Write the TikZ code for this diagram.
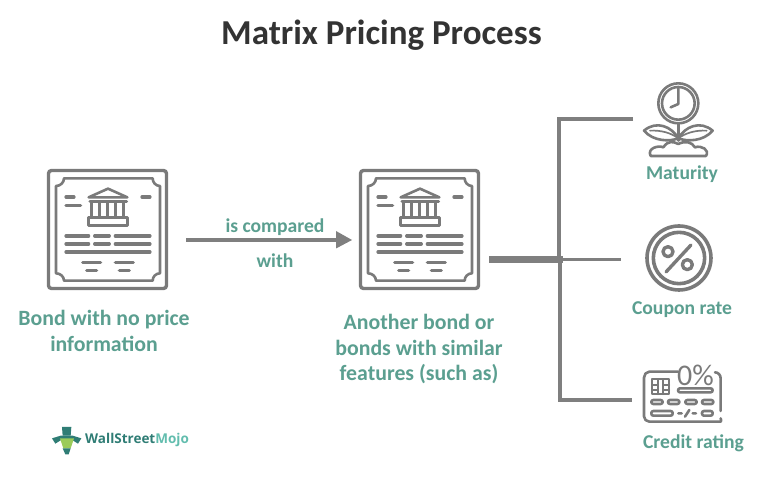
\documentclass[tikz,border=0pt]{standalone}
\usepackage{fontspec}
\setmainfont{Carlito}
\newfontfamily\logofont{Open Sans}
\definecolor{teal1}{HTML}{5B9F90}
\definecolor{gray1}{HTML}{7F7F7F}
\definecolor{gray2}{HTML}{7A7A7A}
\definecolor{title}{HTML}{333333}
\definecolor{logod}{HTML}{2F7D75}
\definecolor{logol}{HTML}{62BDAE}
\definecolor{logog}{HTML}{9BCB5A}
\tikzset{
 lab/.style={text=teal1,font=\bfseries\fontsize{21.8}{21.8}\selectfont,inner sep=0pt,anchor=center},
 smalllab/.style={text=teal1,font=\bfseries\fontsize{19.6}{19.6}\selectfont,inner sep=0pt,anchor=center},
 conn/.style={draw=gray1,line width=4pt},
 ic/.style={draw=gray2,line width=2.6pt,line cap=round,line join=round},
 icthin/.style={draw=gray2,line width=1.7pt,line cap=round,line join=round},
 bondbox/.style={draw=gray2,line width=3.4pt,rounded corners=3pt,minimum width=118pt,minimum height=118pt,inner sep=0pt,anchor=center},
 bond/.pic={
  \begin{scope}[x=0.3333pt,y=-0.3333pt]
  \draw[ic] (102,55)--(368,55) to[out=270,in=180] (390,78)--(390,340) to[out=180,in=90] (368,362)--(102,362) to[out=90,in=0] (78,340)--(78,78) to[out=0,in=270] cycle;
  \draw[ic,line width=3.2pt] (108,111)--(132,111) (108,136)--(152,136) (336,111)--(360,111);
  \draw[ic] (176,112)--(234,86)--(292,112)--cycle;
  \draw[ic,line width=3pt] (180,126)--(290,126);
  \foreach \x in {186,210,234,258,282} \draw[ic,line width=3pt] (\x,130)--(\x,170);
  \draw[ic,line width=3pt] (176,174) rectangle (292,198);
  \foreach \y in {228,252} {\draw[ic,line width=3.2pt] (108,\y)--(176,\y) (194,\y)--(238,\y) (256,\y)--(360,\y);}
  \draw[ic,line width=3.2pt] (108,276)--(360,276);
  \draw[ic,line width=3.2pt] (158,307)--(212,307) (256,307)--(310,307) (170,331)--(200,331) (268,331)--(298,331);
  \end{scope}
 }
}
\begin{document}
\begin{tikzpicture}[x=1pt,y=-1pt]
\useasboundingbox (0,0) rectangle (777,486);
\fill[white] (0,0) rectangle (777,486);
\node[inner sep=0pt,text=title,font=\bfseries\fontsize{35}{35}\selectfont] (ttl) at (381.5,35) {Matrix Pricing Process};

% bonds
\node[bondbox] (bondA) at (107.5,229.5) {};
\node[bondbox] (bondB) at (419.5,229.5) {};
\pic at (30,160) {bond};
\pic at (342,160) {bond};
\node[lab] (tA1) at (104,319.5) {Bond with no price};
\node[lab] (tA2) at (104,344) {information};
\node[lab] (tB1) at (419,322) {Another bond or};
\node[lab] (tB2) at (419,347.5) {bonds with similar};
\node[lab] (tB3) at (419,374) {features (such as)};

% compare arrow
\coordinate (arrS) at (186,240);
\coordinate (arrE) at (352,240);
\draw[draw=gray1,line width=4.4pt] (arrS) -- (337,240);
\fill[gray1] (336,231) -- (arrE) -- (336,248.5) -- cycle;
\node[smalllab] (cmp1) at (275,227.5) {is compared};
\node[smalllab] (cmp2) at (275,261) {with};

% bracket
\coordinate (trS) at (489,259.5);
\coordinate (jn) at (560,259.5);
\coordinate (tu) at (559,119);
\coordinate (tuE) at (633,119);
\coordinate (tm) at (621,259.5);
\coordinate (tl) at (560,400);
\coordinate (tlE) at (632,400);
\draw[conn,line width=7.5pt] (trS) -- (563,259.5);
\draw[conn,line width=3pt] (jn) -- (tm);
\draw[conn,line join=miter] (tuE) -- (tu) -- (559,259.5);
\draw[conn,line join=miter] (jn) -- (tl) -- (tlE);

% maturity
\begin{scope}[shift={(630,70)},x=0.3333pt,y=-0.3333pt]
\draw[ic] (145,100) circle (60);
\draw[ic] (145,100) circle (49);
\draw[ic] (145,52)--(145,102)--(122,112);
\draw[ic] (145,160)--(145,212);
\draw[ic] (145,205) .. controls (125,170) and (80,150) .. (42,182) .. controls (70,215) and (120,215) .. (145,205);
\draw[ic] (145,205) .. controls (165,170) and (210,150) .. (248,182) .. controls (220,215) and (170,215) .. (145,205);
\draw[icthin] (60,182) .. controls (95,180) and (125,190) .. (145,205) (230,182) .. controls (195,180) and (165,190) .. (145,205);
\draw[ic] (62,258) -- (228,258) (62,258) .. controls (50,235) and (85,225) .. (100,232) .. controls (115,210) and (130,215) .. (145,222) .. controls (165,212) and (185,215) .. (195,232) .. controls (215,225) and (240,240) .. (228,258);
\end{scope}
\node[smalllab] (tM) at (682,174) {Maturity};

% coupon
\begin{scope}[shift={(630,220)},x=0.3333pt,y=-0.3333pt]
\draw[ic,line width=3.6pt] (147,114) circle (96);
\draw[ic,line width=3.6pt] (147,114) circle (77);
\draw[ic,line width=3.4pt] (114,95) circle (15);
\draw[ic,line width=3.4pt] (172,134) circle (15);
\draw[ic,line width=3.4pt] (183,75)--(108,156);
\end{scope}
\node[smalllab] (tC) at (682,310) {Coupon rate};

% credit
\begin{scope}[shift={(630,355)},x=0.3333pt,y=-0.3333pt]
\draw[ic] (144,50) -- (58,50) to[out=180,in=90] (42,68) -- (42,184) to[out=270,in=180] (58,200) -- (272,200);
\draw[ic] (272,200) to[out=0,in=270] (272,190) (272,168)--(272,70) to[out=90,in=0] (255,52);
\draw[ic,line width=2.2pt] (66,72) rectangle (118,118);
\draw[icthin] (66,90)--(84,90) (66,104)--(84,104) (100,90)--(118,90) (100,104)--(118,104) (84,72)--(84,118) (100,72)--(100,118);
\draw[ic,rounded corners=2pt] (144,100) rectangle (248,112);
\foreach \x in {64,114,166,216} \draw[ic,rounded corners=2pt] (\x,135) rectangle ++(34,12);
\draw[ic,rounded corners=2pt] (64,168) rectangle (128,182);
\draw[ic,rounded corners=2pt] (216,168) rectangle (248,182);
\draw[ic] (145,175)--(155,175) (165,185)--(178,165) (188,175)--(198,175);
\end{scope}
\node[inner sep=0pt,text=gray2,font=\fontsize{30}{30}\selectfont] (pct) at (695.5,375) {0\%};
\node[smalllab] (tR) at (693.5,443) {Credit rating};

% logo
\begin{scope}[shift={(40,415)},x=0.3333pt,y=-0.3333pt]
\fill[logod] (66,36)--(94,36)--(92,62)--(68,62)--cycle;
\fill[logod] (62,62)--(98,62)--(124,70)--(114,86)--(98,76)--(62,76)--(46,86)--(36,70)--cycle;
\fill[logog] (60,70)--(102,70)--(92,100)--(70,100)--cycle;
\fill[logod] (68,100)--(92,100)--(86,118)--(76,118)--cycle;
\end{scope}
\node[inner sep=0pt,anchor=west,font=\logofont\bfseries\fontsize{13.5}{13.5}\selectfont] (logo) at (85,439.5) {\textcolor{logod}{WallStreet}\textcolor{logol}{Mojo}};
\end{tikzpicture}
\end{document}
